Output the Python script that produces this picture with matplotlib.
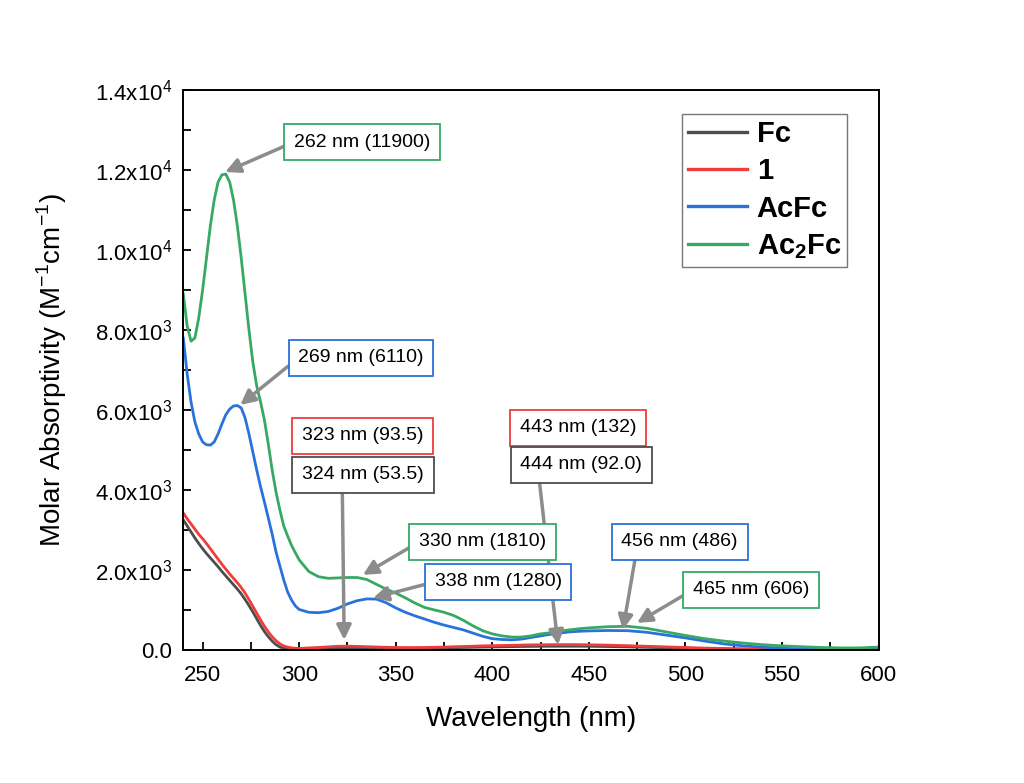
import numpy as np
import matplotlib.pyplot as plt
from matplotlib.ticker import MultipleLocator, FuncFormatter

plt.rcParams['font.family'] = ['Liberation Sans', 'DejaVu Sans']
plt.rcParams['mathtext.fontset'] = 'custom'
plt.rcParams['mathtext.rm'] = 'Liberation Sans'
plt.rcParams['mathtext.bf'] = 'Liberation Sans:bold'

# wavelength grid (nm)
wl = ([240, 242, 244, 246, 248, 250, 252, 254, 256, 258, 260, 262, 264, 266, 268, 270,
       272, 274, 276, 278, 280, 282, 284, 286, 288, 290, 292, 294, 296, 298, 300]
      + list(range(305, 451, 5)) + list(range(460, 601, 10)))

fc = [3250, 3100, 2950, 2800, 2660, 2530, 2410, 2300, 2190, 2080, 1960, 1850, 1740, 1630, 1520, 1400,
      1260, 1110, 950, 780, 610, 460, 330, 220, 130, 70, 45, 35, 30, 30, 30,
      35, 40, 46, 52, 53, 51, 48, 45, 42, 40, 40, 41, 43, 46, 50, 55, 60, 65, 70, 74,
      78, 82, 85, 88, 90, 91, 92, 92, 92, 90,
      84, 75, 64, 52, 42, 32, 24, 18, 13, 9, 7, 5, 4, 3, 3]

cmpd1 = [3420, 3280, 3150, 3020, 2890, 2780, 2660, 2530, 2400, 2270, 2140, 2020, 1900, 1790, 1680, 1560,
         1420, 1260, 1090, 920, 750, 590, 450, 330, 230, 150, 100, 70, 50, 40, 35,
         50, 60, 75, 90, 93, 88, 80, 72, 65, 60, 58, 58, 60, 65, 70, 78, 85, 92, 100, 105,
         110, 115, 120, 125, 128, 130, 132, 132, 131, 128,
         118, 105, 90, 75, 60, 45, 35, 25, 18, 12, 10, 8, 6, 5, 5]

acfc = [7800, 6900, 6200, 5700, 5400, 5200, 5130, 5120, 5200, 5400, 5650, 5880, 6020, 6100, 6110, 6050,
        5800, 5400, 4950, 4500, 4080, 3700, 3300, 2900, 2450, 2100, 1750, 1450, 1250, 1100, 1010,
        940, 930, 960, 1040, 1150, 1230, 1275, 1270, 1180, 1050, 940, 850, 770, 690, 620, 560,
        500, 420, 340, 280, 260, 250, 270, 310, 350, 390, 420, 450, 465, 475,
        485, 480, 440, 370, 300, 220, 150, 100, 70, 40, 25, 15, 10, 10, 10]

ac2fc = [8900, 8100, 7720, 7800, 8300, 9000, 9800, 10600, 11250, 11700, 11880, 11900, 11700, 11250, 10600, 9800,
         8900, 8000, 7200, 6600, 6200, 5750, 5150, 4500, 3950, 3500, 3100, 2850, 2620, 2430, 2250,
         1960, 1830, 1790, 1800, 1810, 1810, 1760, 1640, 1520, 1420, 1300, 1170, 1060, 1000, 940, 860,
         740, 600, 480, 400, 350, 320, 320, 350, 400, 430, 470, 500, 530, 550,
         580, 590, 540, 450, 360, 280, 220, 170, 130, 100, 80, 60, 50, 50, 70]

names = ['Fc', '1', 'AcFc', r'Ac$_{\mathbf{2}}$Fc']
colors = ['#4d4d4d', '#f03c3c', '#2a72db', '#38a865']

fig = plt.figure(figsize=(10.24, 7.83), dpi=100)
ax = fig.add_axes([0.179, 0.170, 0.679, 0.715])

for y, name, c in zip([fc, cmpd1, acfc, ac2fc], names, colors):
    ax.plot(wl, y, color=c, lw=2, label=name)

ax.set_xlim(240, 600)
ax.set_ylim(0, 14000)
ax.xaxis.set_major_locator(MultipleLocator(50))
ax.xaxis.set_minor_locator(MultipleLocator(25))
ax.yaxis.set_major_locator(MultipleLocator(2000))
ax.yaxis.set_minor_locator(MultipleLocator(1000))


def sci(v, pos):
    if v <= 0:
        return '0.0'
    e = int(np.floor(np.log10(v)))
    return f'{v / 10**e:.1f}x10$^{{{e}}}$'


ax.yaxis.set_major_formatter(FuncFormatter(sci))
ax.tick_params(which='both', direction='in', length=6, width=1.3, labelsize=16, pad=8)
ax.tick_params(axis='x', pad=11)
for s in ax.spines.values():
    s.set_linewidth(1.4)

ax.set_xlabel('Wavelength (nm)', fontsize=20, labelpad=14)
ax.set_ylabel('Molar Absorptivity (M$^{-1}$cm$^{-1}$)', fontsize=20, labelpad=19)

leg = ax.legend(loc='upper right', bbox_to_anchor=(0.955, 0.957), borderaxespad=0,
                fancybox=False, edgecolor='#555555', handlelength=2.0, handletextpad=0.35,
                labelspacing=0.32, prop={'weight': 'bold', 'size': 21}, borderpad=0.2)
leg.get_frame().set_linewidth(1.0)
for line in leg.get_lines():
    line.set_linewidth(2.4)

# annotations: text, box colour, arrow tip, box centre, arrow start on box
notes = [
    ('262 nm (11900)', colors[3], (261.7, 11950), (332.6, 12700), (0, 0.5)),
    ('269 nm (6110)', colors[2], (269.5, 6125), (332.0, 7300), (0, 0.5)),
    ('323 nm (93.5)', colors[1], None, (333.0, 5350), None),
    ('324 nm (53.5)', colors[0], (323.3, 250), (333.0, 4375), (0.33, 0)),
    ('443 nm (132)', colors[1], None, (444.3, 5550), None),
    ('444 nm (92.0)', colors[0], (434.0, 125), (446.0, 4625), (0.15, 0)),
    ('330 nm (1810)', colors[3], (333.0, 1875), (395.0, 2700), (0, 0.5)),
    ('338 nm (1280)', colors[2], (338.3, 1300), (403.0, 1700), (0, 0.5)),
    ('456 nm (486)', colors[2], (467.6, 500), (497.0, 2700), (0.13, 0)),
    ('465 nm (606)', colors[3], (474.9, 675), (533.9, 1500), (0, 0.5)),
]
for txt, c, tip, pos, rel in notes:
    box = dict(boxstyle='square,pad=0.5', fc='white', ec=c, lw=1.3)
    if tip is None:
        ax.text(pos[0], pos[1], txt, fontsize=14, ha='center', va='center', bbox=box)
    else:
        ax.annotate(txt, xy=tip, xytext=pos, fontsize=14, ha='center', va='center', bbox=box,
                    arrowprops=dict(arrowstyle='-|>', color='#8c8c8c', lw=2.5,
                                    mutation_scale=22, shrinkA=0, shrinkB=0, relpos=rel))

fig.savefig('out.png', dpi=100)
